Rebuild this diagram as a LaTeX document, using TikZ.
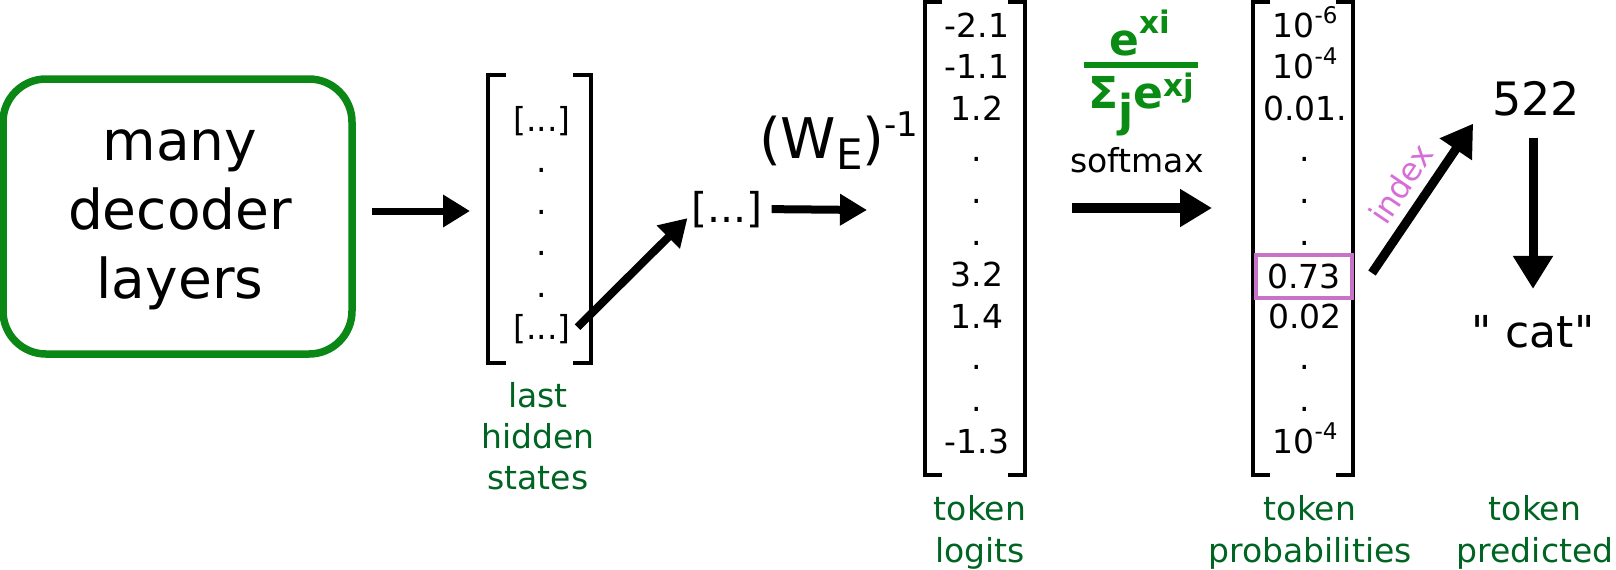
\documentclass[tikz,border=0pt]{standalone}
\usepackage{fontspec}
\setmainfont{DejaVu Sans}
\usetikzlibrary{arrows.meta,calc}
\definecolor{boxgreen}{RGB}{10,135,20}
\definecolor{fracgreen}{RGB}{10,140,20}
\definecolor{labgreen}{RGB}{0,100,35}
\definecolor{selpink}{RGB}{200,115,200}
\definecolor{idxpink}{RGB}{215,110,215}
\newcommand{\fsz}[2]{\fontsize{#1}{#2}\selectfont}
\newcommand{\upby}[3]{\raisebox{#1}{\fsz{#2}{#2}#3}}
\newcommand{\tenpow}[1]{10\upby{7pt}{11.5pt}{#1}}
\newcommand{\sq}{\XeTeXglyph\XeTeXcharglyph"0022\relax}
\begin{document}
\begin{tikzpicture}[x=0.5pt,y=-0.5pt,
  txt/.style={inner sep=0pt, outer sep=0pt},
  entry/.style={txt, font=\fsz{16.5pt}{18pt}, anchor=base},
  lab/.style={txt, font=\fsz{16.5pt}{21pt}, text=labgreen, align=center, anchor=north},
  brk/.style={line width=2pt, line cap=butt, line join=miter},
  matbox/.style={txt, minimum width=50pt, minimum height=236.5pt},
  arrowstyle/.style n args={3}{line width=#1, -{Triangle[length=#2,width=#3]}}]
\useasboundingbox (0,0) rectangle (1616,569);

% decoder box
\node[draw=boxgreen, line width=3.75pt, rounded corners=21.5pt, minimum width=174.5pt,
      minimum height=137.5pt, inner sep=0pt, outer sep=0pt] (box) at (177.5,216.5) {};
\node[txt, font=\fsz{27.5pt}{34.5pt}, align=center, anchor=north] (boxtext) at (180,130) {many\\decoder\\layers};

% last hidden states
\node[txt, minimum width=51.5pt, minimum height=144pt] (hid) at (539.5,219) {};
\draw[brk] ([xshift=9pt]hid.north west) -- (hid.north west) -- (hid.south west) -- ([xshift=9pt]hid.south west);
\draw[brk] ([xshift=-9pt]hid.north east) -- (hid.north east) -- (hid.south east) -- ([xshift=-9pt]hid.south east);
\node[entry] (h1) at (542,131) {[...]};
\node[entry] (h2) at (542,172.6) {.};
\node[entry] (h3) at (542,214.2) {.};
\node[entry] (h4) at (542,255.8) {.};
\node[entry] (h5) at (542,297.4) {.};
\node[entry] (h6) at (542,339) {[...]};
\node[lab, font=\fsz{16.5pt}{20.5pt}] (hidlab) at (538,382) {last\\hidden\\states};

\draw[arrowstyle={3.5pt}{13.5pt}{15.5pt}] ($(box.east)+(20,-5.5)$) -- ($(hid.west)+(-18,-8)$);

% single hidden state
\node[txt, font=\fsz{20.5pt}{21pt}, anchor=base] (mid) at (727,222) {[...]};
\draw[arrowstyle={4pt}{13.5pt}{15.5pt}] ($(h6.east)+(7,-1.5)$) -- ($(mid.west)+(-4,9)$);

% (W_E)^-1
\node[txt, font=\fsz{28pt}{28pt}, anchor=base west] (we) at (759,158)
  {(W\raisebox{-5.5pt}{\fsz{21pt}{21pt}E})\upby{11pt}{17pt}{-1}};

% logits
\node[matbox] (lg) at (975,238.5) {};
\draw[brk] ([xshift=8.5pt]lg.north west) -- (lg.north west) -- (lg.south west) -- ([xshift=8.5pt]lg.south west);
\draw[brk] ([xshift=-8.5pt]lg.north east) -- (lg.north east) -- (lg.south east) -- ([xshift=-8.5pt]lg.south east);
\foreach \t [count=\i] in {-2.1,-1.1,1.2,.,.,.,3.2,1.4,.,.,-1.3}
  \node[entry] (l\i) at (977,{37+41.6*(\i-1)}) {\t};
\node[lab] (lglab) at (980,495) {token\\logits};

\draw[arrowstyle={4pt}{13.5pt}{15pt}] ($(mid.east)+(9,0)$) -- ($(lg.west)+(-58,-28.5)$);

% softmax
\node[txt, anchor=base, font=\bfseries\fsz{22pt}{22pt}, text=fracgreen] (num) at (1140,55)
  {e\upby{11pt}{15.5pt}{xi}};
\draw[fracgreen, line width=3pt] (1084,65) -- (1198,65);
\node[txt, anchor=base, font=\bfseries\fsz{22pt}{22pt}, text=fracgreen] (den) at (1141,108)
  {Σ\raisebox{-9pt}{j}e\upby{6pt}{15.5pt}{xj}};
\node[txt, anchor=base, font=\fsz{16.5pt}{17pt}] (smx) at (1137,172) {softmax};
\draw[arrowstyle={5pt}{16pt}{18pt}] ($(lg.east)+(47,-30.5)$) -- ($(lg.east)+(187,-30.5)$);

% probabilities
\node[matbox] (pr) at (1303,238.5) {};
\draw[brk] ([xshift=8.5pt]pr.north west) -- (pr.north west) -- (pr.south west) -- ([xshift=8.5pt]pr.south west);
\draw[brk] ([xshift=-8.5pt]pr.north east) -- (pr.north east) -- (pr.south east) -- ([xshift=-8.5pt]pr.south east);
\node[entry] (p1) at (1305,37) {\tenpow{-6}};
\node[entry] (p2) at (1305,78.6) {\tenpow{-4}};
\node[entry] (p3) at (1305,120.2) {0.01.};
\node[entry] (p4) at (1305,161.8) {.};
\node[entry] (p5) at (1305,203.4) {.};
\node[entry] (p6) at (1305,245) {.};
\node[txt, draw=selpink, line width=2pt, minimum width=48pt, minimum height=21.5pt,
      font=\fsz{16.5pt}{18pt}] (p7) at (1304,276.5) {0.73};
\node[entry] (p8) at (1305,328.2) {0.02};
\node[entry] (p9) at (1305,369.8) {.};
\node[entry] (p10) at (1305,411.4) {.};
\node[entry] (p11) at (1305,453) {\tenpow{-4}};
\node[lab] (prlab) at (1310,495) {token\\probabilities};

% predicted token
\node[txt, anchor=base, font=\fsz{23pt}{23pt}] (n522) at (1536,115) {522};
\node[txt, anchor=base, font=\fsz{22pt}{22pt}] (cat) at (1533,347) {\sq{} cat\sq};
\node[lab] (predlab) at (1535,495) {token\\predicted};

\draw[arrowstyle={4.5pt}{15.5pt}{18.5pt}] ($(p7.east)+(20,-3.5)$) --
  node[sloped, above=7pt, txt, text=idxpink, font=\fsz{16pt}{16pt}] (idx) {index}
  ($(n522.south west)+(-19,8)$);
\draw[arrowstyle={4.5pt}{16.5pt}{19pt}] ($(n522.south)+(-3,22)$) -- ($(cat.north)+(0,-26)$);
\end{tikzpicture}
\end{document}
